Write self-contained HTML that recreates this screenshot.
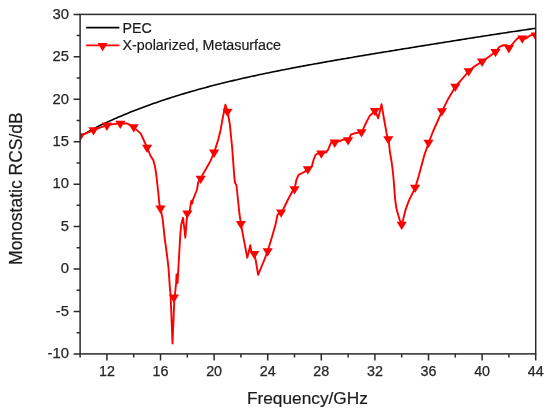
<!DOCTYPE html>
<html><head><meta charset="utf-8"><title>Monostatic RCS</title>
<style>html,body{margin:0;padding:0;background:#fff;}svg{display:block;}</style>
</head><body>
<svg width="550" height="414" viewBox="0 0 550 414">
<rect x="0" y="0" width="550" height="414" fill="#fff"/>
<defs><clipPath id="c"><rect x="80.1" y="14.4" width="455.6" height="339.5"/></clipPath></defs>
<path d="M78.00,137.66 L80.00,136.49 L82.00,135.32 L84.00,134.17 L86.00,133.04 L88.00,131.91 L90.00,130.79 L92.00,129.69 L94.00,128.60 L96.00,127.52 L98.00,126.45 L100.00,125.49 L102.00,124.54 L104.00,123.61 L106.00,122.68 L108.00,121.77 L110.00,120.86 L112.00,119.97 L114.00,119.08 L116.00,118.21 L118.00,117.34 L120.00,116.49 L122.00,115.64 L124.00,114.81 L126.00,113.98 L128.00,113.17 L130.00,112.36 L132.00,111.56 L134.00,110.77 L136.00,109.99 L138.00,109.22 L140.00,108.45 L142.00,107.70 L144.00,106.95 L146.00,106.22 L148.00,105.49 L150.00,104.76 L152.00,104.05 L154.00,103.35 L156.00,102.65 L158.00,101.96 L160.00,101.27 L162.00,100.60 L164.00,99.93 L166.00,99.27 L168.00,98.62 L170.00,97.97 L172.00,97.33 L174.00,96.69 L176.00,96.07 L178.00,95.45 L180.00,94.84 L182.00,94.23 L184.00,93.63 L186.00,93.03 L188.00,92.44 L190.00,91.86 L192.00,91.29 L194.00,90.71 L196.00,90.15 L198.00,89.59 L200.00,89.04 L202.00,88.49 L204.00,87.95 L206.00,87.41 L208.00,86.88 L210.00,86.35 L212.00,85.83 L214.00,85.31 L216.00,84.80 L218.00,84.29 L220.00,83.78 L222.00,83.29 L224.00,82.79 L226.00,82.30 L228.00,81.82 L230.00,81.34 L232.00,80.86 L234.00,80.39 L236.00,79.92 L238.00,79.45 L240.00,78.99 L242.00,78.54 L244.00,78.08 L246.00,77.63 L248.00,77.19 L250.00,76.75 L252.00,76.31 L254.00,75.87 L256.00,75.44 L258.00,75.01 L260.00,74.58 L262.00,74.16 L264.00,73.74 L266.00,73.32 L268.00,72.91 L270.00,72.50 L272.00,72.09 L274.00,71.69 L276.00,71.28 L278.00,70.88 L280.00,70.49 L282.00,70.09 L284.00,69.70 L286.00,69.31 L288.00,68.92 L290.00,68.53 L292.00,68.15 L294.00,67.77 L296.00,67.39 L298.00,67.01 L300.00,66.64 L302.00,66.26 L304.00,65.89 L306.00,65.52 L308.00,65.15 L310.00,64.79 L312.00,64.42 L314.00,64.06 L316.00,63.70 L318.00,63.34 L320.00,62.98 L322.00,62.62 L324.00,62.27 L326.00,61.91 L328.00,61.56 L330.00,61.21 L332.00,60.86 L334.00,60.51 L336.00,60.16 L338.00,59.82 L340.00,59.47 L342.00,59.13 L344.00,58.78 L346.00,58.44 L348.00,58.10 L350.00,57.76 L352.00,57.42 L354.00,57.08 L356.00,56.74 L358.00,56.40 L360.00,56.07 L362.00,55.73 L364.00,55.40 L366.00,55.06 L368.00,54.73 L370.00,54.40 L372.00,54.07 L374.00,53.73 L376.00,53.40 L378.00,53.07 L380.00,52.74 L382.00,52.41 L384.00,52.08 L386.00,51.76 L388.00,51.43 L390.00,51.10 L392.00,50.77 L394.00,50.45 L396.00,50.12 L398.00,49.79 L400.00,49.47 L402.00,49.14 L404.00,48.82 L406.00,48.49 L408.00,48.17 L410.00,47.85 L412.00,47.52 L414.00,47.20 L416.00,46.88 L418.00,46.55 L420.00,46.23 L422.00,45.91 L424.00,45.59 L426.00,45.27 L428.00,44.94 L430.00,44.62 L432.00,44.30 L434.00,43.98 L436.00,43.66 L438.00,43.34 L440.00,43.02 L442.00,42.70 L444.00,42.38 L446.00,42.07 L448.00,41.75 L450.00,41.43 L452.00,41.11 L454.00,40.79 L456.00,40.48 L458.00,40.16 L460.00,39.84 L462.00,39.53 L464.00,39.21 L466.00,38.89 L468.00,38.58 L470.00,38.26 L472.00,37.95 L474.00,37.64 L476.00,37.32 L478.00,37.01 L480.00,36.70 L482.00,36.39 L484.00,36.07 L486.00,35.76 L488.00,35.45 L490.00,35.14 L492.00,34.83 L494.00,34.53 L496.00,34.22 L498.00,33.91 L500.00,33.60 L502.00,33.30 L504.00,32.99 L506.00,32.69 L508.00,32.39 L510.00,32.08 L512.00,31.78 L514.00,31.48 L516.00,31.18 L518.00,30.88 L520.00,30.59 L522.00,30.29 L524.00,29.99 L526.00,29.70 L528.00,29.41 L530.00,29.11 L532.00,28.82 L534.00,28.53 L536.00,28.25" fill="none" stroke="#000" stroke-width="1.6" clip-path="url(#c)"/>
<g clip-path="url(#c)"><path d="M80.0,136.0 L86.5,133.2 L93.4,130.1 L100.0,127.6 L106.8,125.4 L113.5,124.1 L120.2,123.5 L127.0,123.4 L133.6,127.1 L140.8,133.6 L147.1,147.5 L150.6,156.0 L153.3,160.2 L155.0,166.5 L156.3,175.0 L157.3,184.0 L158.3,193.0 L159.4,204.1 L160.5,208.4 L162.7,219.3 L164.7,238.6 L166.6,252.0 L168.5,267.6 L169.7,285.5 L170.6,295.0 L172.5,343.5 L174.3,301.0 L175.2,291.8 L176.1,283.5 L176.5,274.5 L177.6,283.0 L178.2,271.4 L179.1,255.7 L180.1,238.0 L180.6,231.0 L181.3,224.5 L183.0,217.8 L184.4,229.0 L185.3,237.7 L186.3,225.0 L187.3,213.2 L189.8,211.0 L190.6,205.0 L191.4,200.8 L192.2,203.6 L193.0,199.7 L196.9,190.0 L198.3,182.0 L200.7,178.6 L202.4,175.1 L208.2,165.0 L210.5,160.9 L214.1,152.4 L215.8,147.4 L218.2,139.7 L220.6,130.0 L222.5,119.2 L225.4,104.8 L227.6,111.6 L229.8,124.0 L232.2,148.2 L234.4,178.0 L235.1,183.0 L236.4,185.0 L237.9,199.0 L239.4,213.5 L240.9,223.7 L243.6,238.4 L247.3,257.8 L250.3,245.1 L251.5,252.4 L254.3,253.8 L255.7,260.2 L258.1,274.8 L262.2,265.0 L264.2,260.2 L267.7,251.1 L271.5,238.4 L275.4,225.1 L277.6,214.5 L281.2,212.3 L283.6,208.5 L288.0,199.5 L292.0,192.0 L294.6,189.0 L296.3,180.2 L298.6,174.9 L302.2,173.0 L304.9,171.6 L308.0,169.0 L311.9,166.3 L313.7,159.5 L315.5,155.0 L317.6,153.5 L321.4,153.3 L326.2,152.4 L328.2,149.5 L330.0,144.8 L331.5,141.9 L334.9,142.4 L339.0,141.3 L343.8,139.3 L348.3,140.0 L351.1,134.5 L354.7,133.3 L361.7,132.1 L365.1,124.8 L369.5,116.1 L375.1,110.7 L378.2,118.3 L381.5,104.2 L384.0,119.0 L386.9,134.9 L388.5,139.0 L389.9,152.0 L391.3,160.0 L392.3,167.0 L393.1,174.0 L393.9,183.0 L395.1,199.0 L396.2,207.0 L397.3,212.0 L399.5,219.3 L401.9,224.5 L405.5,209.9 L409.1,200.2 L415.3,187.6 L418.7,176.1 L424.3,155.2 L428.7,142.6 L433.0,131.5 L442.1,111.1 L448.3,98.7 L455.5,86.5 L460.4,81.0 L468.9,71.0 L474.0,66.8 L482.3,61.4 L487.5,57.8 L495.7,51.7 L499.0,47.2 L502.9,45.3 L506.8,45.3 L509.1,47.9 L510.6,46.2 L516.4,39.5 L519.3,37.0 L522.6,38.2 L526.1,38.5 L530.0,35.6 L536.0,33.5" fill="none" stroke="#f00" stroke-width="1.9" stroke-linejoin="round"/>
<path d="M75.00,133.20 L85.20,133.20 L80.10,141.50 Z" fill="#f00"/>
<path d="M88.40,127.30 L98.60,127.30 L93.50,135.60 Z" fill="#f00"/>
<path d="M101.80,122.60 L112.00,122.60 L106.90,130.90 Z" fill="#f00"/>
<path d="M115.20,120.70 L125.40,120.70 L120.30,129.00 Z" fill="#f00"/>
<path d="M128.60,124.30 L138.80,124.30 L133.70,132.60 Z" fill="#f00"/>
<path d="M142.00,144.70 L152.20,144.70 L147.10,153.00 Z" fill="#f00"/>
<path d="M155.40,205.60 L165.60,205.60 L160.50,213.90 Z" fill="#f00"/>
<path d="M168.80,294.60 L179.00,294.60 L173.90,302.90 Z" fill="#f00"/>
<path d="M182.20,210.40 L192.40,210.40 L187.30,218.70 Z" fill="#f00"/>
<path d="M195.60,175.80 L205.80,175.80 L200.70,184.10 Z" fill="#f00"/>
<path d="M209.00,149.60 L219.20,149.60 L214.10,157.90 Z" fill="#f00"/>
<path d="M222.40,108.80 L232.60,108.80 L227.50,117.10 Z" fill="#f00"/>
<path d="M235.80,220.90 L246.00,220.90 L240.90,229.20 Z" fill="#f00"/>
<path d="M249.20,251.00 L259.40,251.00 L254.30,259.30 Z" fill="#f00"/>
<path d="M262.60,248.30 L272.80,248.30 L267.70,256.60 Z" fill="#f00"/>
<path d="M276.00,209.50 L286.20,209.50 L281.10,217.80 Z" fill="#f00"/>
<path d="M289.40,186.20 L299.60,186.20 L294.50,194.50 Z" fill="#f00"/>
<path d="M302.80,166.20 L313.00,166.20 L307.90,174.50 Z" fill="#f00"/>
<path d="M316.20,150.50 L326.40,150.50 L321.30,158.80 Z" fill="#f00"/>
<path d="M329.60,139.60 L339.80,139.60 L334.70,147.90 Z" fill="#f00"/>
<path d="M343.00,137.20 L353.20,137.20 L348.10,145.50 Z" fill="#f00"/>
<path d="M356.40,129.30 L366.60,129.30 L361.50,137.60 Z" fill="#f00"/>
<path d="M369.80,107.90 L380.00,107.90 L374.90,116.20 Z" fill="#f00"/>
<path d="M383.20,136.20 L393.40,136.20 L388.30,144.50 Z" fill="#f00"/>
<path d="M396.60,221.70 L406.80,221.70 L401.70,230.00 Z" fill="#f00"/>
<path d="M410.00,184.80 L420.20,184.80 L415.10,193.10 Z" fill="#f00"/>
<path d="M423.40,139.80 L433.60,139.80 L428.50,148.10 Z" fill="#f00"/>
<path d="M436.80,108.30 L447.00,108.30 L441.90,116.60 Z" fill="#f00"/>
<path d="M450.20,83.70 L460.40,83.70 L455.30,92.00 Z" fill="#f00"/>
<path d="M463.60,68.20 L473.80,68.20 L468.70,76.50 Z" fill="#f00"/>
<path d="M477.00,58.60 L487.20,58.60 L482.10,66.90 Z" fill="#f00"/>
<path d="M490.40,48.90 L500.60,48.90 L495.50,57.20 Z" fill="#f00"/>
<path d="M503.80,45.10 L514.00,45.10 L508.90,53.40 Z" fill="#f00"/>
<path d="M517.20,35.40 L527.40,35.40 L522.30,43.70 Z" fill="#f00"/>
<path d="M530.60,32.40 L540.80,32.40 L535.70,40.70 Z" fill="#f00"/>
</g>
<rect x="80.1" y="14.4" width="455.6" height="339.5" fill="none" stroke="#2b2b2b" stroke-width="1.5"/>
<path d="M73.60,353.90 H80.1 M76.60,332.68 H80.1 M73.60,311.46 H80.1 M76.60,290.24 H80.1 M73.60,269.02 H80.1 M76.60,247.81 H80.1 M73.60,226.59 H80.1 M76.60,205.37 H80.1 M73.60,184.15 H80.1 M76.60,162.93 H80.1 M73.60,141.71 H80.1 M76.60,120.49 H80.1 M73.60,99.27 H80.1 M76.60,78.06 H80.1 M73.60,56.84 H80.1 M76.60,35.62 H80.1 M73.60,14.40 H80.1 M80.10,353.9 V357.40 M106.90,353.9 V360.40 M133.70,353.9 V357.40 M160.50,353.9 V360.40 M187.30,353.9 V357.40 M214.10,353.9 V360.40 M240.90,353.9 V357.40 M267.70,353.9 V360.40 M294.50,353.9 V357.40 M321.30,353.9 V360.40 M348.10,353.9 V357.40 M374.90,353.9 V360.40 M401.70,353.9 V357.40 M428.50,353.9 V360.40 M455.30,353.9 V357.40 M482.10,353.9 V360.40 M508.90,353.9 V357.40 M535.70,353.9 V360.40" stroke="#2b2b2b" stroke-width="1.5" fill="none"/>
<text x="69.0" y="358.20" text-anchor="end" font-family="Liberation Sans, Arial, sans-serif" font-size="14.8" fill="#262626" stroke="#262626" stroke-width="0.25">-10</text>
<text x="69.0" y="315.76" text-anchor="end" font-family="Liberation Sans, Arial, sans-serif" font-size="14.8" fill="#262626" stroke="#262626" stroke-width="0.25">-5</text>
<text x="69.0" y="273.32" text-anchor="end" font-family="Liberation Sans, Arial, sans-serif" font-size="14.8" fill="#262626" stroke="#262626" stroke-width="0.25">0</text>
<text x="69.0" y="230.89" text-anchor="end" font-family="Liberation Sans, Arial, sans-serif" font-size="14.8" fill="#262626" stroke="#262626" stroke-width="0.25">5</text>
<text x="69.0" y="188.45" text-anchor="end" font-family="Liberation Sans, Arial, sans-serif" font-size="14.8" fill="#262626" stroke="#262626" stroke-width="0.25">10</text>
<text x="69.0" y="146.01" text-anchor="end" font-family="Liberation Sans, Arial, sans-serif" font-size="14.8" fill="#262626" stroke="#262626" stroke-width="0.25">15</text>
<text x="69.0" y="103.57" text-anchor="end" font-family="Liberation Sans, Arial, sans-serif" font-size="14.8" fill="#262626" stroke="#262626" stroke-width="0.25">20</text>
<text x="69.0" y="61.14" text-anchor="end" font-family="Liberation Sans, Arial, sans-serif" font-size="14.8" fill="#262626" stroke="#262626" stroke-width="0.25">25</text>
<text x="69.0" y="18.70" text-anchor="end" font-family="Liberation Sans, Arial, sans-serif" font-size="14.8" fill="#262626" stroke="#262626" stroke-width="0.25">30</text>
<text x="106.90" y="376.3" text-anchor="middle" font-family="Liberation Sans, Arial, sans-serif" font-size="14.3" fill="#262626" stroke="#262626" stroke-width="0.25">12</text>
<text x="160.50" y="376.3" text-anchor="middle" font-family="Liberation Sans, Arial, sans-serif" font-size="14.3" fill="#262626" stroke="#262626" stroke-width="0.25">16</text>
<text x="214.10" y="376.3" text-anchor="middle" font-family="Liberation Sans, Arial, sans-serif" font-size="14.3" fill="#262626" stroke="#262626" stroke-width="0.25">20</text>
<text x="267.70" y="376.3" text-anchor="middle" font-family="Liberation Sans, Arial, sans-serif" font-size="14.3" fill="#262626" stroke="#262626" stroke-width="0.25">24</text>
<text x="321.30" y="376.3" text-anchor="middle" font-family="Liberation Sans, Arial, sans-serif" font-size="14.3" fill="#262626" stroke="#262626" stroke-width="0.25">28</text>
<text x="374.90" y="376.3" text-anchor="middle" font-family="Liberation Sans, Arial, sans-serif" font-size="14.3" fill="#262626" stroke="#262626" stroke-width="0.25">32</text>
<text x="428.50" y="376.3" text-anchor="middle" font-family="Liberation Sans, Arial, sans-serif" font-size="14.3" fill="#262626" stroke="#262626" stroke-width="0.25">36</text>
<text x="482.10" y="376.3" text-anchor="middle" font-family="Liberation Sans, Arial, sans-serif" font-size="14.3" fill="#262626" stroke="#262626" stroke-width="0.25">40</text>
<text x="535.70" y="376.3" text-anchor="middle" font-family="Liberation Sans, Arial, sans-serif" font-size="14.3" fill="#262626" stroke="#262626" stroke-width="0.25">44</text>
<text x="307.4" y="404.2" text-anchor="middle" font-family="Liberation Sans, Arial, sans-serif" font-size="17.3" fill="#1a1a1a" stroke="#1a1a1a" stroke-width="0.2">Frequency/GHz</text>
<text transform="translate(21.6,188.6) rotate(-90)" x="0" y="0" text-anchor="middle" font-family="Liberation Sans, Arial, sans-serif" font-size="17.5" fill="#1a1a1a" stroke="#1a1a1a" stroke-width="0.2">Monostatic RCS/dB</text>
<path d="M86.1,27.6 H119.4" stroke="#000" stroke-width="1.7"/>
<text x="122.6" y="32.7" font-family="Liberation Sans, Arial, sans-serif" font-size="14.25" fill="#1a1a1a" stroke="#1a1a1a" stroke-width="0.2">PEC</text>
<path d="M86.1,45.4 H119.4" stroke="#f00" stroke-width="1.9"/>
<path d="M97.50,43.00 L107.70,43.00 L102.60,51.30 Z" fill="#f00"/>
<text x="122.6" y="50.2" font-family="Liberation Sans, Arial, sans-serif" font-size="14.25" fill="#1a1a1a" stroke="#1a1a1a" stroke-width="0.2">X-polarized, Metasurface</text>
</svg>
</body></html>
